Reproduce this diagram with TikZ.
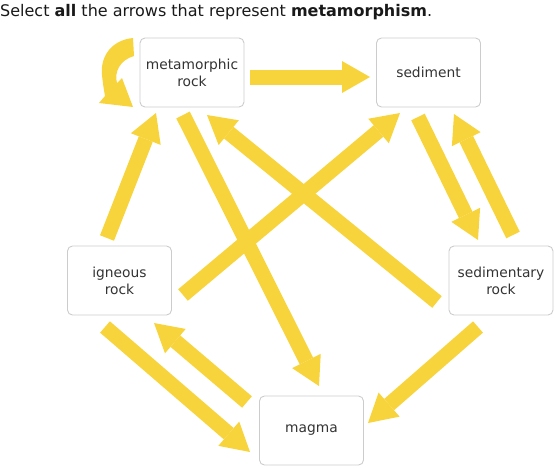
\documentclass[tikz,border=0pt]{standalone}
\usepackage{fontspec}
\setmainfont{DejaVu Sans}
\usetikzlibrary{arrows.meta}
\definecolor{arrowyellow}{RGB}{248,212,60}
\definecolor{boxborder}{RGB}{204,204,204}
\definecolor{labelgray}{RGB}{51,51,51}
\tikzset{
  rockbox/.style={draw=boxborder, line width=0.9pt, rounded corners=5pt,
    minimum width=104pt, minimum height=69pt, align=center,
    font=\fontsize{13.8}{17}\selectfont, text=labelgray, inner sep=0pt},
  bigarrow/.style={draw=arrowyellow, line width=15pt,
    -{Triangle[length=28pt,width=32pt,line width=0pt]}},
}
\begin{document}
\begin{tikzpicture}[x=1pt,y=-1pt]
\useasboundingbox (0,0) rectangle (555,467);
\node[anchor=base west, inner sep=0pt, text=black!90,
  font=\fontsize{16}{18}\selectfont] (title) at (0,16)
  {Select \textbf{all} the arrows that represent \textbf{metamorphism}.};
\node[rockbox] (meta) at (192,72.5) {metamorphic\\rock};
\node[rockbox] (sed) at (428.5,72.5) {sediment};
\node[rockbox] (ign) at (119.5,280.5) {igneous\\rock};
\node[rockbox] (sedrock) at (501,280.5) {sedimentary\\rock};
\node[rockbox] (magma) at (311.5,430.5) {magma};
% arrow end points
\coordinate (a1s) at (250,77);  \coordinate (a1e) at (370,77);
\coordinate (a2s) at (107,238); \coordinate (a2e) at (156,113);
\coordinate (a3s) at (183,115); \coordinate (a3e) at (319,386);
\coordinate (a4s) at (437,302); \coordinate (a4e) at (207,115);
\coordinate (a5s) at (183,295); \coordinate (a5e) at (400,113);
\coordinate (a6s) at (418,117); \coordinate (a6e) at (478,240);
\coordinate (a7s) at (513,235); \coordinate (a7e) at (454,114);
\coordinate (a8s) at (478,327); \coordinate (a8e) at (368,423);
\coordinate (a9s) at (105,327); \coordinate (a9e) at (250,452);
\coordinate (a10s) at (247,402); \coordinate (a10e) at (154,323);
\draw[bigarrow] (a1s) -- (a1e);
\draw[bigarrow] (a2s) -- (a2e);
\draw[bigarrow] (a3s) -- (a3e);
\draw[bigarrow] (a4s) -- (a4e);
\draw[bigarrow] (a5s) -- (a5e);
\draw[bigarrow] (a6s) -- (a6e);
\draw[bigarrow] (a7s) -- (a7e);
\draw[bigarrow] (a8s) -- (a8e);
\draw[bigarrow] (a9s) -- (a9e);
\draw[bigarrow] (a10s) -- (a10e);
% self loop on metamorphic rock
\fill[arrowyellow] (133,38) .. controls (112,40) and (100,56) .. (102,75)
  .. controls (103,85) and (104,90) .. (105,96) -- (99,103) -- (133,107)
  -- (122,78) -- (117,83) .. controls (114,72) and (120,60) .. (134,56) -- cycle;
\end{tikzpicture}
\end{document}
